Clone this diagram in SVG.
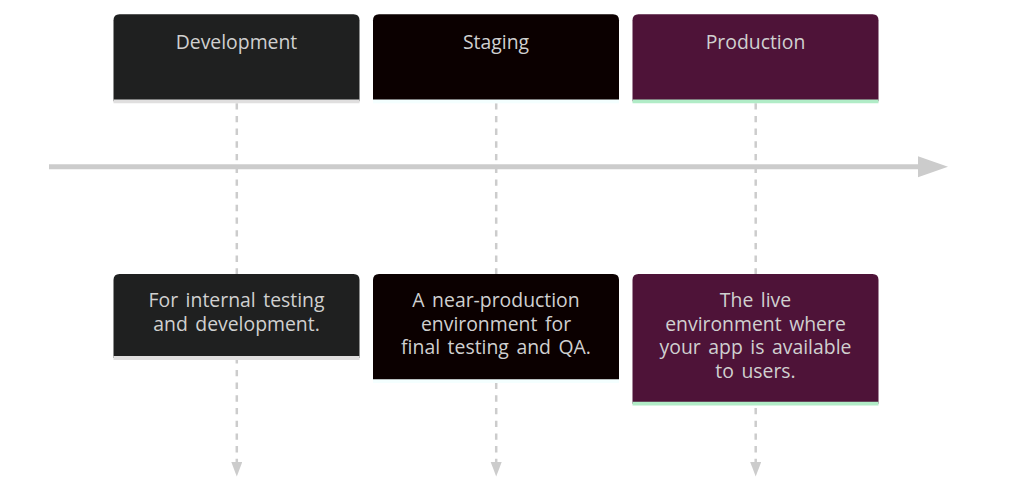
<svg xmlns="http://www.w3.org/2000/svg" width="1014" height="502" viewBox="0 0 1014 502">
  <defs>
    <style>
      .bg { fill: #ffffff; }
      .axis { stroke: #cccccc; stroke-width: 5; fill: none; }
      .vline { stroke: #cccccc; stroke-width: 2.5; stroke-dasharray: 6.35 6.35; fill: none; }
      .lbl { font-family: "Open Sans", "Liberation Sans", sans-serif; font-size: 19.4px; fill: #d0d0d0; text-anchor: middle; word-spacing: 2.5px; }
      .nline { stroke-width: 3.8; fill: none; }
      .dev .box { fill: #1f2020; }
      .dev .nline { stroke: #e0dfdf; }
      .stg .box { fill: #0b0000; }
      .stg .nline { stroke: #f4ffff; }
      .prd .box { fill: #4e1338; }
      .prd .nline { stroke: #b1ecc7; }
    </style>
    <marker id="axis-arrow" markerUnits="userSpaceOnUse" markerWidth="31" markerHeight="22" viewBox="0 0 31 22" refX="0" refY="10.5" orient="auto">
      <path d="M0,0 L30,10.5 L0,21 Z" fill="#cccccc"/>
    </marker>
    <marker id="drop-arrow" markerUnits="userSpaceOnUse" markerWidth="16" markerHeight="12" viewBox="0 0 16 12" refX="0" refY="5.5" orient="auto">
      <path d="M0,0 L14.5,5.5 L0,11 Z" fill="#cccccc"/>
    </marker>
  </defs>
  <rect class="bg" x="0" y="0" width="1014" height="502"/>

  <g id="connectors">
    <line class="vline" x1="236.8" y1="103.2" x2="236.8" y2="462" marker-end="url(#drop-arrow)"/>
    <line class="vline" x1="496.2" y1="103.2" x2="496.2" y2="462" marker-end="url(#drop-arrow)"/>
    <line class="vline" x1="755.7" y1="103.2" x2="755.7" y2="462" marker-end="url(#drop-arrow)"/>
    <line class="axis" x1="49" y1="166.7" x2="918" y2="166.7" marker-end="url(#axis-arrow)"/>
  </g>

  <g id="section-development" class="dev" transform="translate(113.5,14.3)">
    <path class="box" d="M0,87 V6 Q0,0 6,0 H240 Q246,0 246,6 V87 Z"/>
    <line class="nline" x1="0" y1="87" x2="246" y2="87"/>
    <text class="lbl" x="123" y="34.7">Development</text>
  </g>
  <g id="section-staging" class="stg" transform="translate(373,14.3)">
    <path class="box" d="M0,87 V6 Q0,0 6,0 H240 Q246,0 246,6 V87 Z"/>
    <line class="nline" x1="0" y1="87" x2="246" y2="87"/>
    <text class="lbl" x="123" y="34.7">Staging</text>
  </g>
  <g id="section-production" class="prd" transform="translate(632.5,14.3)">
    <path class="box" d="M0,87 V6 Q0,0 6,0 H240 Q246,0 246,6 V87 Z"/>
    <line class="nline" x1="0" y1="87" x2="246" y2="87"/>
    <text class="lbl" x="123" y="34.7">Production</text>
  </g>

  <g id="event-development" class="dev" transform="translate(113.5,274)">
    <path class="box" d="M0,84 V6 Q0,0 6,0 H240 Q246,0 246,6 V84 Z"/>
    <line class="nline" x1="0" y1="84" x2="246" y2="84"/>
    <text class="lbl" x="123" y="33.3">For internal testing</text>
    <text class="lbl" x="123" y="56.7">and development.</text>
  </g>
  <g id="event-staging" class="stg" transform="translate(373,274)">
    <path class="box" d="M0,107.2 V6 Q0,0 6,0 H240 Q246,0 246,6 V107.2 Z"/>
    <line class="nline" x1="0" y1="107.2" x2="246" y2="107.2"/>
    <text class="lbl" x="123" y="33.3">A near-production</text>
    <text class="lbl" x="123" y="56.7">environment for</text>
    <text class="lbl" x="123" y="80.1">final testing and QA.</text>
  </g>
  <g id="event-production" class="prd" transform="translate(632.5,274)">
    <path class="box" d="M0,129.7 V6 Q0,0 6,0 H240 Q246,0 246,6 V129.7 Z"/>
    <line class="nline" x1="0" y1="129.7" x2="246" y2="129.7"/>
    <text class="lbl" x="123" y="33.3">The live</text>
    <text class="lbl" x="123" y="56.7">environment where</text>
    <text class="lbl" x="123" y="80.1">your app is available</text>
    <text class="lbl" x="123" y="103.5">to users.</text>
  </g>
</svg>
